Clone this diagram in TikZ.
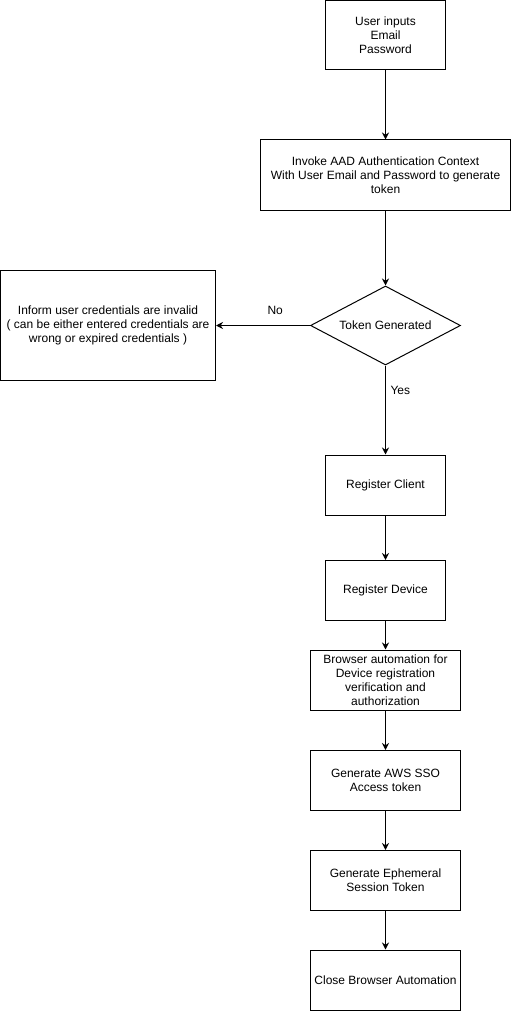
\documentclass[tikz,border=0pt]{standalone}
\usepackage{fontspec}
\setmainfont{Liberation Sans}
\usetikzlibrary{positioning, arrows.meta, shapes.geometric}

\begin{document}
\begin{tikzpicture}[x=1pt, y=1pt,
  every node/.style={font=\fontsize{12}{14}\selectfont},
  proc/.style={draw, line width=1pt, align=center, inner sep=2pt},
  decision/.style={draw, diamond, aspect=1.9, line width=1pt, align=center, inner sep=0pt},
  flow/.style={line width=1pt, -{Stealth[length=7pt, width=7pt]}},
  edge-label/.style={inner sep=0pt}]
\useasboundingbox (0,0) rectangle (511,-1011);
\path
(385.5,-35.5) node[proc, minimum width=120pt, minimum height=69pt] (user-in) {User inputs\\ Email\\ Password}
++(-90:139.5) node[proc, minimum width=250pt, minimum height=70pt] (invoke) {Invoke AAD Authentication Context\\ With User Email and Password to generate\\ token}
++(-90:150.5) node[decision, minimum width=150pt, minimum height=79pt] (token-gen) {Token Generated}
+(180:277.5) node[proc, minimum width=215pt, minimum height=110pt] (inform) {Inform user credentials are invalid\\ ( can be either entered credentials are\\ wrong or expired credentials )}
++(-90:159.5) node[proc, minimum width=120pt, minimum height=60pt] (reg-client) {Register Client}
++(-90:105.5) node[proc, minimum width=120pt, minimum height=60pt] (reg-device) {Register Device}
++(-90:89.5) node[proc, minimum width=150pt, minimum height=60pt] (browser-auto) {Browser automation for\\ Device registration\\ verification and\\ authorization}
++(-90:100.5) node[proc, minimum width=150pt, minimum height=60pt] (sso-token) {Generate AWS SSO\\ Access token}
++(-90:100) node[proc, minimum width=150pt, minimum height=60pt] (session-token) {Generate Ephemeral\\ Session Token}
++(-90:99.5) node[proc, minimum width=150pt, minimum height=60pt] (close-browser) {Close Browser Automation}
;

\draw[flow] (user-in) -- (invoke) ;
\draw[flow] (invoke) -- (token-gen) ;

\draw[flow]
(token-gen) -- node[edge-label, pos=0.37, above=10pt] {No} (inform)
;
\draw[flow]
(token-gen) -- node[edge-label, pos=0.28, right=4.5pt] {Yes} (reg-client)
;

\draw[flow] (reg-client) -- (reg-device) ;
\draw[flow] (reg-device) -- (browser-auto) ;
\draw[flow] (browser-auto) -- (sso-token) ;
\draw[flow] (sso-token) -- (session-token) ;
\draw[flow] (session-token) -- (close-browser) ;

\end{tikzpicture}
\end{document}
